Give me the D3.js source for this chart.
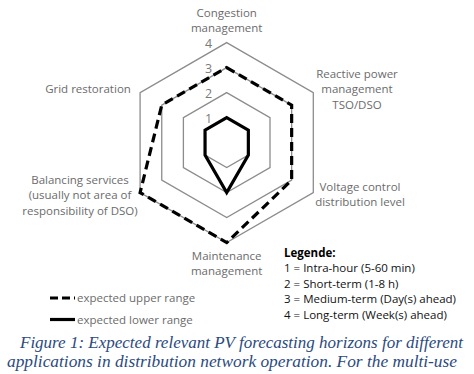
<!DOCTYPE html>
<html>
<head>
<meta charset="utf-8">
<script src="https://d3js.org/d3.v7.min.js"></script>
<style>
  body { margin: 0; background: #fff; }
  svg { display: block; }
</style>
</head>
<body>
<div id="chart"></div>
<script>
// axes clockwise from top
let axes = ["Congestion management", "Reactive power management TSO/DSO", "Voltage control distribution level",
  "Maintenance management", "Balancing services (usually not area of responsibility of DSO)", "Grid restoration"]
let upperRange = [3, 3, 3, 4, 4, 3]
let lowerRange = [1, 1, 1, 2, 1, 1]
let levels = [1, 2, 3, 4]
let legendLines = ["1 = Intra-hour (5-60 min)", "2 = Short-term (1-8 h)", "3 = Medium-term (Day(s) ahead)", "4 = Long-term (Week(s) ahead)"]
let seriesNames = ["expected upper range", "expected lower range"]
let caption = ["Figure 1: Expected relevant PV forecasting horizons for different",
  "applications in distribution network operation. For the multi-use"]

let width = 474, height = 374
let cx = 226.7, cy = 142.6

let svg = d3.select("#chart").append("svg")
  .attr("width", width)
  .attr("height", height)

let r = d3.scaleLinear().domain([0, 4]).range([0, 100])
let angle = d3.scalePoint().domain(axes).range([0, 2 * Math.PI * 5 / 6])

let radar = d3.lineRadial()
  .angle((d, i) => angle(axes[i]))
  .radius(d => r(d))
  .curve(d3.curveLinearClosed)

let g = svg.append("g").attr("transform", "translate(" + cx + "," + cy + ")")

// grid hexagons
g.selectAll(".grid")
  .data(levels)
  .enter()
  .append("path")
  .attr("d", l => radar(axes.map(() => l)))
  .attr("fill", "none")
  .attr("stroke", "#8c8c8c")
  .attr("stroke-width", 1.3)

// tick labels
g.selectAll(".tick")
  .data(levels)
  .enter()
  .append("text")
  .attr("x", -18)
  .attr("y", l => -r(l) + 2)
  .attr("text-anchor", "middle")
  .attr("dominant-baseline", "middle")
  .attr("font-family", "Open Sans, sans-serif")
  .attr("font-size", "12.5px")
  .attr("fill", "#7a7a7a")
  .text(l => l)

g.append("path")
  .attr("d", radar(lowerRange))
  .attr("fill", "none")
  .attr("stroke", "#000")
  .attr("stroke-width", 3.2)
  .attr("stroke-linejoin", "miter")

g.append("path")
  .attr("d", radar(upperRange))
  .attr("fill", "none")
  .attr("stroke", "#000")
  .attr("stroke-width", 3.2)
  .attr("stroke-dasharray", "9,5")

// axis labels
let labelLines = [
  ["Congestion", "management"],
  ["Reactive power", "management", "TSO/DSO"],
  ["Voltage control", "distribution level"],
  ["Maintenance", "management"],
  ["Balancing services", "(usually not area of", "responsibility of DSO)"],
  ["Grid restoration"]
]
let labelPos = [[226.7, 14], [357, 75], [360, 188], [226.7, 257], [80, 181], [88, 90]]

labelLines.forEach((lines, i) => {
  let t = svg.append("text")
    .attr("text-anchor", "middle")
    .attr("font-family", "Open Sans, sans-serif")
    .attr("font-size", "11.5px")
    .attr("fill", "#6b6b6b")
  lines.forEach((s, j) => {
    t.append("tspan")
      .attr("x", labelPos[i][0])
      .attr("y", labelPos[i][1] + j * 15.4)
      .attr("dominant-baseline", "middle")
      .text(s)
  })
})

// series legend
let sl = svg.append("g")
seriesNames.forEach((s, i) => {
  let y = 298 + i * 21.5
  sl.append("line")
    .attr("x1", 50).attr("x2", 75)
    .attr("y1", y).attr("y2", y)
    .attr("stroke", "#000")
    .attr("stroke-width", 3.2)
    .attr("stroke-dasharray", i == 0 ? "8,4" : null)
  sl.append("text")
    .attr("x", 77)
    .attr("y", y + 1)
    .attr("dominant-baseline", "middle")
    .attr("font-family", "Open Sans, sans-serif")
    .attr("font-size", "11.5px")
    .attr("fill", "#6b6b6b")
    .text(s)
})

// level legend
let lg = svg.append("g")
lg.append("text")
  .attr("x", 284).attr("y", 254)
  .attr("dominant-baseline", "middle")
  .attr("font-family", "Open Sans, sans-serif")
  .attr("font-size", "11.5px")
  .attr("font-weight", "bold")
  .attr("fill", "#000")
  .text("Legende:")
legendLines.forEach((s, i) => {
  lg.append("text")
    .attr("x", 284).attr("y", 269 + i * 15.6)
    .attr("dominant-baseline", "middle")
    .attr("font-family", "Open Sans, sans-serif")
    .attr("font-size", "11.5px")
    .attr("fill", "#111")
    .text(s)
})

// caption
let capX = [[20, 443], [7, 450]]
caption.forEach((s, i) => {
  svg.append("text")
    .attr("x", capX[i][0])
    .attr("y", 348 + i * 18.5)
    .attr("font-family", "Liberation Serif, serif")
    .attr("font-style", "italic")
    .attr("font-size", "17.5px")
    .attr("fill", "#2b4a7e")
    .attr("textLength", capX[i][1])
    .attr("lengthAdjust", "spacingAndGlyphs")
    .text(s)
})
</script>
</body>
</html>
